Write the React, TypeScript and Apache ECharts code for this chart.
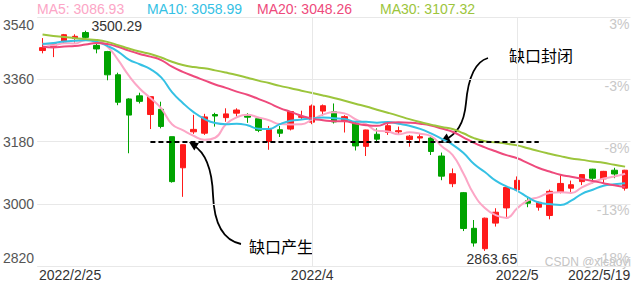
import React, { useEffect, useRef } from 'react';
import * as echarts from 'echarts';

// ---------- data ----------
const dates = [
  '2022/2/25', '2022/2/28', '2022/3/1', '2022/3/2', '2022/3/3', '2022/3/4', '2022/3/7', '2022/3/8',
  '2022/3/9', '2022/3/10', '2022/3/11', '2022/3/14', '2022/3/15', '2022/3/16', '2022/3/17', '2022/3/18',
  '2022/3/21', '2022/3/22', '2022/3/23', '2022/3/24', '2022/3/25', '2022/3/28', '2022/3/29', '2022/3/30',
  '2022/3/31', '2022/4/1', '2022/4/6', '2022/4/7', '2022/4/8', '2022/4/11', '2022/4/12', '2022/4/13',
  '2022/4/14', '2022/4/15', '2022/4/18', '2022/4/19', '2022/4/20', '2022/4/21', '2022/4/22', '2022/4/25',
  '2022/4/26', '2022/4/27', '2022/4/28', '2022/4/29', '2022/5/5', '2022/5/6', '2022/5/9', '2022/5/10',
  '2022/5/11', '2022/5/12', '2022/5/13', '2022/5/16', '2022/5/17', '2022/5/18', '2022/5/19'
];

const opens = [
  3443, 3455, 3468, 3478, 3495, 3458, 3440, 3373, 3303, 3312, 3258, 3273, 3194, 3104, 3208, 3204,
  3258, 3249, 3262, 3254, 3246, 3180, 3214, 3216, 3250, 3236, 3268, 3266, 3240, 3233, 3166, 3201,
  3206, 3208, 3186, 3190, 3190, 3138, 3058, 3032, 2929, 2870, 2944, 2988, 3040, 3009, 2990, 2966,
  3033, 3045, 3064, 3100, 3072, 3097, 3045
];

const closes = [
  3451.41, 3462.31, 3488.83, 3484.19, 3481.11, 3447.65, 3372.86, 3293.53, 3256.39, 3296.09, 3309.75,
  3223.53, 3063.97, 3170.71, 3215.04, 3251.07, 3253.69, 3259.86, 3271.03, 3250.26, 3212.24, 3214.5,
  3203.94, 3266.6, 3252.2, 3282.72, 3283.43, 3236.7, 3251.85, 3167.13, 3213.33, 3186.82, 3225.64,
  3211.24, 3195.52, 3194.03, 3151.05, 3079.81, 3086.92, 2928.51, 2886.43, 2958.28, 2975.48, 3047.06,
  3067.76, 3001.56, 3004.14, 3035.84, 3058.7, 3054.99, 3084.28, 3073.75, 3093.7, 3085.98, 3096.96
];

const lows = [
  3435, 3424, 3462, 3466, 3475, 3435, 3357, 3285, 3146, 3290, 3216, 3218, 3061, 3020, 3202, 3199,
  3223, 3237, 3252, 3234, 3207, 3156, 3193, 3212, 3243, 3230, 3254, 3232, 3206, 3154, 3138, 3180,
  3199, 3199, 3165, 3177, 3141, 3068, 3048, 2921, 2876, 2863.65, 2934, 2962, 3038, 2990, 2980, 2955,
  3030, 3030, 3054, 3059, 3057, 3074, 3038
];

const highs = [
  3479, 3464, 3491, 3490, 3500.29, 3462, 3442, 3379, 3305, 3321, 3310, 3295, 3194, 3171, 3257, 3260,
  3263, 3276, 3276, 3262, 3251, 3225, 3225, 3268, 3269, 3287, 3287, 3290, 3256, 3238, 3214, 3218,
  3231, 3223, 3199, 3203, 3192, 3148, 3102, 3034, 2953, 2960, 2987, 3048, 3079, 3016, 3006, 3041,
  3083, 3067, 3085, 3101, 3095, 3104, 3098
];

// closes of the 29 sessions before 2022/2/25 (moving-average warm-up)
const priorCloses = [
  3593.52, 3567.44, 3597.43, 3555.26, 3521.26, 3541.67, 3569.91, 3558.18, 3555.06, 3522.57,
  3524.11, 3433.06, 3455.67, 3394.25, 3361.44, 3429.58, 3452.63, 3479.95, 3485.91, 3462.95,
  3428.88, 3446.09, 3465.83, 3468.04, 3490.76, 3490.61, 3457.15, 3489.15, 3429.96
];

const maPeriods = [5, 10, 20, 30];
const maColors = ['#fca6c6', '#35c1e4', '#ee4a7c', '#9cc53c'];

const yMin = 2820;
const yMax = 3540;
const yInterval = 180;
const rightTickLabels = ['-18%', '-13%', '-8%', '-3%', '3%'];

const xTickIndex = [0, 25, 44, 54];
const xTickText = ['2022/2/25', '2022/4', '2022/5', '2022/5/19'];

const gapLevel = 3178;
const gapStartIndex = 10;
const gapEndIndex = 46;
const splitIndex = [25, 44];

// ---------- helpers ----------
const allCloses = priorCloses.concat(closes);
function movingAverage(p: number): number[] {
  const off = priorCloses.length;
  return closes.map((_, i) => {
    let s = 0;
    for (let k = off + i - p + 1; k <= off + i; k++) s += allCloses[k];
    return +(s / p).toFixed(2);
  });
}

const NUM_FONT = "'Liberation Sans', Arial, Helvetica, sans-serif";
const CJK_FONT = "'Noto Sans CJK SC', 'Noto Sans', sans-serif";

export default function App() {
  const ref = useRef<HTMLDivElement>(null);

  useEffect(() => {
    if (!ref.current) return;
    const chart = echarts.init(ref.current, undefined, { renderer: 'svg' });
    const mas = maPeriods.map((p) => movingAverage(p));
    const kData = dates.map((_, i) => [opens[i], closes[i], lows[i], highs[i]]);

    const leftBase = { fontSize: 14, color: '#555', fontFamily: NUM_FONT };
    const rightBase = { fontSize: 14, color: '#c8c8c8', fontFamily: NUM_FONT };
    const xBase = { fontSize: 14, color: '#333', fontFamily: NUM_FONT };

    const legendX = [37, 147, 257, 380];

    const option: any = {
      animation: false,
      grid: { left: 36.3, right: 12.5, top: 17, bottom: 17 },
      xAxis: {
        type: 'category',
        data: dates,
        boundaryGap: true,
        axisLine: { show: false },
        axisTick: { show: false },
        splitLine: { show: false },
        axisLabel: {
          margin: 2,
          interval: (idx: number) => xTickIndex.includes(idx),
          formatter: (_v: string, idx: number) => {
            const k = xTickIndex.indexOf(idx);
            if (k < 0) return '';
            const t = xTickText[k];
            if (k === 0) return `{l|${t}}`;
            if (k === xTickIndex.length - 1) return `{r|${t}}`;
            return `{c|${t}}`;
          },
          rich: {
            l: { ...xBase, padding: [0, 0, 0, 55] },
            r: { ...xBase, padding: [0, 52, 0, 0] },
            c: { ...xBase }
          }
        }
      },
      yAxis: [
        {
          type: 'value',
          min: yMin,
          max: yMax,
          interval: yInterval,
          position: 'left',
          axisLine: { show: false },
          axisTick: { show: false },
          splitLine: { show: true, lineStyle: { color: '#e8e8e8', width: 1 } },
          axisLabel: {
            margin: 3,
            formatter: (v: number) =>
              v === yMax ? `{t|${v}}` : v === yMin ? `{b|${v}}` : `{m|${v}}`,
            rich: {
              t: { ...leftBase, padding: [16, 0, 0, 0] },
              b: { ...leftBase, padding: [0, 0, 16, 0] },
              m: { ...leftBase }
            }
          }
        },
        {
          type: 'value',
          min: yMin,
          max: yMax,
          interval: yInterval,
          position: 'right',
          axisLine: { show: false },
          axisTick: { show: false },
          splitLine: { show: false },
          axisLabel: {
            inside: true,
            margin: 1,
            formatter: (v: number) => {
              const k = Math.round((v - yMin) / yInterval);
              const t = rightTickLabels[k];
              if (k === rightTickLabels.length - 1) return `{t|${t}}`;
              if (k === 0) return `{b|${t}}`;
              return `{n|${t}}`;
            },
            rich: {
              t: { ...rightBase, padding: [14, 0, 0, 0] },
              b: { ...rightBase, padding: [0, 0, 16, 0] },
              n: { ...rightBase, padding: [13, 0, 0, 0] }
            }
          }
        }
      ],
      series: [
        {
          name: 'split',
          type: 'line',
          data: dates.map(() => null),
          z: 1,
          silent: true,
          showSymbol: false,
          markLine: {
            silent: true,
            symbol: ['none', 'none'],
            label: { show: false },
            lineStyle: { color: '#e8e8e8', width: 1, type: 'solid' },
            data: splitIndex.map((i) => ({ xAxis: dates[i] }))
          }
        },
        {
          name: 'K',
          type: 'candlestick',
          data: kData,
          z: 3,
          barWidth: 6,
          itemStyle: {
            color: '#ff1a1a',
            color0: '#00a300',
            borderColor: '#ff1a1a',
            borderColor0: '#00a300',
            borderWidth: 1
          },
          markPoint: {
            silent: true,
            symbol: 'circle',
            symbolSize: 0,
            itemStyle: { color: 'transparent' },
            data: [
              {
                type: 'max',
                valueDim: 'highest',
                label: {
                  show: true,
                  position: 'inside',
                  offset: [31, -5],
                  formatter: (p: any) => Number(p.value).toFixed(2),
                  fontSize: 14,
                  color: '#333',
                  fontFamily: NUM_FONT
                }
              },
              {
                type: 'min',
                valueDim: 'lowest',
                label: {
                  show: true,
                  position: 'inside',
                  offset: [7, 8],
                  formatter: (p: any) => Number(p.value).toFixed(2),
                  fontSize: 14,
                  color: '#333',
                  fontFamily: NUM_FONT
                }
              }
            ]
          }
        },
        ...maPeriods.map((p, k) => ({
          name: `MA${p}`,
          type: 'line',
          data: mas[k],
          z: 4,
          smooth: true,
          showSymbol: false,
          silent: true,
          lineStyle: { color: maColors[k], width: 2 },
          itemStyle: { color: maColors[k] }
        })),
        {
          name: 'gap',
          type: 'line',
          data: dates.map(() => null),
          z: 6,
          silent: true,
          showSymbol: false,
          markLine: {
            silent: true,
            symbol: ['none', 'none'],
            label: { show: false },
            lineStyle: { color: '#000', width: 2, type: [5, 3] },
            data: [[{ coord: [dates[gapStartIndex], gapLevel] }, { coord: [dates[gapEndIndex], gapLevel] }]]
          }
        }
      ],
      graphic: [
        ...maPeriods.map((p, k) => ({
          type: 'text',
          x: legendX[k],
          y: 9,
          silent: true,
          style: {
            text: `MA${p}: ${mas[k][mas[k].length - 1].toFixed(2)}`,
            fill: maColors[k],
            fontSize: 14,
            fontFamily: NUM_FONT,
            align: 'left',
            verticalAlign: 'middle'
          }
        })),
        {
          type: 'text',
          x: 249,
          y: 246,
          silent: true,
          style: { text: '缺口产生', fill: '#000', fontSize: 16, fontFamily: CJK_FONT, align: 'left', verticalAlign: 'middle' }
        },
        {
          type: 'text',
          x: 509,
          y: 55,
          silent: true,
          style: { text: '缺口封闭', fill: '#000', fontSize: 16, fontFamily: CJK_FONT, align: 'left', verticalAlign: 'middle' }
        },
        {
          type: 'bezierCurve',
          silent: true,
          shape: { x1: 241, y1: 244, cpx1: 222, cpy1: 240, cpx2: 214, cpy2: 222, x2: 213, y2: 195 },
          style: { stroke: '#000', lineWidth: 1.8, fill: null }
        },
        {
          type: 'bezierCurve',
          silent: true,
          shape: { x1: 213, y1: 195, cpx1: 212, cpy1: 168, cpx2: 205, cpy2: 152, x2: 193, y2: 145 },
          style: { stroke: '#000', lineWidth: 1.8, fill: null }
        },
        {
          type: 'polygon',
          silent: true,
          shape: { points: [[189, 142], [198.9, 142.9], [194.3, 150.5]] },
          style: { fill: '#000' }
        },
        {
          type: 'bezierCurve',
          silent: true,
          shape: { x1: 488, y1: 58, cpx1: 474, cpy1: 62, cpx2: 468, cpy2: 80, x2: 466, y2: 103 },
          style: { stroke: '#000', lineWidth: 1.8, fill: null }
        },
        {
          type: 'bezierCurve',
          silent: true,
          shape: { x1: 466, y1: 103, cpx1: 464, cpy1: 125, cpx2: 456, cpy2: 134, x2: 445, y2: 140 },
          style: { stroke: '#000', lineWidth: 1.8, fill: null }
        },
        {
          type: 'polygon',
          silent: true,
          shape: { points: [[440, 142.5], [451.2, 142.5], [446.7, 133.6]] },
          style: { fill: '#000' }
        },
        {
          type: 'text',
          x: 631,
          y: 262,
          silent: true,
          style: {
            text: 'CSDN @xlcaoyi',
            fill: '#c4c4c4',
            fontSize: 12,
            fontFamily: NUM_FONT,
            align: 'right',
            verticalAlign: 'middle'
          }
        }
      ]
    };

    chart.setOption(option);
    return () => chart.dispose();
  }, []);

  return (
    <div
      ref={ref}
      style={{ position: 'fixed', left: 0, top: 0, width: 643, height: 283, background: '#fff' }}
    />
  );
}
